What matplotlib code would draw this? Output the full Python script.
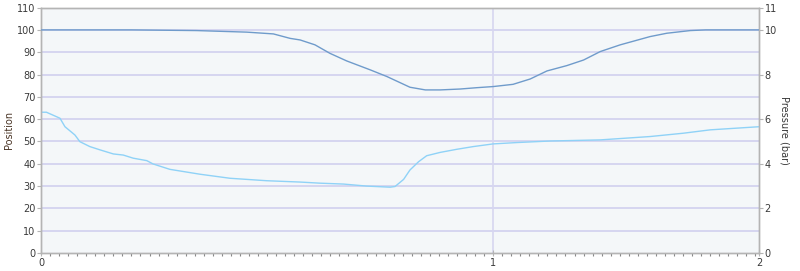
import matplotlib.pyplot as plt
import numpy as np
from matplotlib.ticker import MultipleLocator

# ---- data ----
# pressure trace (right axis, bar)
pres_x = [0.0, 0.20, 0.344, 0.455, 0.514, 0.551, 0.573, 0.606, 0.639, 0.676,
          0.728, 0.765, 0.816, 0.850, 0.883, 0.927, 0.964, 1.0, 1.044, 1.082,
          1.119, 1.163, 1.200, 1.237, 1.281, 1.347, 1.384, 1.436, 1.47, 1.588]
pres_y = [10.0, 10.0, 9.97, 9.90, 9.82, 9.62, 9.55, 9.33, 8.95, 8.61,
          8.21, 7.91, 7.43, 7.31, 7.31, 7.35, 7.41, 7.46, 7.56, 7.80,
          8.16, 8.40, 8.65, 9.03, 9.33, 9.70, 9.85, 9.97, 10.0, 10.0]

# position trace (left axis)
pos_x = [0.0, 0.012, 0.042, 0.053, 0.075, 0.086, 0.108, 0.131, 0.160, 0.182,
         0.204, 0.234, 0.248, 0.285, 0.352, 0.418, 0.499, 0.573, 0.617, 0.669,
         0.720, 0.772, 0.783, 0.802, 0.816, 0.835, 0.853, 0.883, 0.920, 0.956,
         1.0, 1.052, 1.126, 1.237, 1.347, 1.421, 1.480, 1.588]
pos_y = [63.1, 63.1, 60.4, 56.6, 52.9, 49.9, 47.7, 46.2, 44.4, 43.9,
         42.5, 41.4, 39.9, 37.5, 35.3, 33.5, 32.4, 31.8, 31.3, 30.9,
         30.0, 29.5, 29.8, 33.0, 37.2, 40.9, 43.6, 45.1, 46.5, 47.7,
         48.9, 49.5, 50.2, 50.7, 52.2, 53.7, 55.2, 56.6]

x_end = 1.588
x_major = [0, 1, x_end]
x_labels = ["0", "1", "2"]

grid_col = "#d6d6f0"
spine_col = "#b4b4b4"
text_col = "#3a3a3a"

fig = plt.figure(figsize=(8, 2.71), dpi=100)
ax = fig.add_axes([0.05125, 0.0664, 0.8975, 0.9056])
ax.set_facecolor("#f4f7f9")
ax2 = ax.twinx()

ax.set_xlim(0, x_end)
ax.set_ylim(0, 110)
ax2.set_ylim(0, 11)

ax.set_yticks(np.arange(0, 111, 10))
ax2.set_yticks([0, 2, 4, 6, 8, 10, 11])
ax.set_xticks(x_major)
ax.set_xticklabels(x_labels)
ax.xaxis.set_minor_locator(MultipleLocator(0.02))

# grid
for v in range(10, 101, 10):
    ax.axhline(v, color=grid_col, lw=1.4, zorder=0)
ax.axvline(1, color=grid_col, lw=1.2, zorder=0)

ax.plot(pos_x, pos_y, color="#8fd2f7", lw=1.0, zorder=3)
ax2.plot(pres_x, pres_y, color="#6f9bcb", lw=1.0, zorder=3)

for a in (ax, ax2):
    for s in a.spines.values():
        s.set_color(spine_col)
        s.set_linewidth(1.0)
    a.tick_params(colors=spine_col, labelcolor=text_col, labelsize=7,
                  length=3, width=0.8, pad=1)

ax.tick_params(axis="x", which="major", length=5, direction="inout")
ax.tick_params(axis="x", which="minor", length=2, width=0.8,
               direction="out", color="#888888")

ax.set_ylabel("Position", fontsize=7, color="#4a3526", labelpad=2)
ax2.set_ylabel("Pressure (bar)", fontsize=7, color=text_col,
               rotation=-90, labelpad=9)

fig.savefig("out.png", dpi=100)
